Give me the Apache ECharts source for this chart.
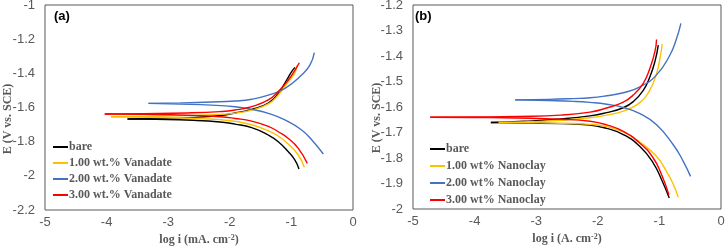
<!DOCTYPE html>
<html><head><meta charset="utf-8">
<script src="https://cdn.jsdelivr.net/npm/echarts@6/dist/echarts.min.js"></script>
<style>html,body{margin:0;padding:0;background:#fff}#c{width:725px;height:246px}</style>
</head><body><div id="c"></div>
<script>
// ---- Panel (a): Vanadate ----
const namesA = ['bare', '1.00 wt.% Vanadate', '2.00 wt.% Vanadate', '3.00 wt.% Vanadate'];
const aBareAn = [[-3.66,-1.667],[-3.2,-1.664],[-2.6,-1.658],[-2.159,-1.647],[-1.916,-1.632],[-1.645,-1.611],[-1.375,-1.574],[-1.213,-1.517],[-1.077,-1.439],[-0.996,-1.390],[-0.942,-1.365]];
const aBareCa = [[-3.66,-1.667],[-3.2,-1.669],[-2.6,-1.675],[-2.159,-1.685],[-1.916,-1.697],[-1.645,-1.718],[-1.375,-1.761],[-1.213,-1.800],[-1.050,-1.859],[-0.942,-1.908],[-0.877,-1.960]];
const aV1An = [[-3.93,-1.654],[-3.3,-1.651],[-2.6,-1.646],[-2.159,-1.640],[-1.916,-1.633],[-1.645,-1.615],[-1.375,-1.579],[-1.213,-1.527],[-1.050,-1.449],[-0.942,-1.396],[-0.905,-1.351]];
const aV1Ca = [[-3.93,-1.654],[-3.3,-1.657],[-2.6,-1.663],[-2.159,-1.671],[-1.916,-1.681],[-1.645,-1.701],[-1.375,-1.736],[-1.213,-1.767],[-1.050,-1.814],[-0.888,-1.878],[-0.790,-1.950]];
const aV2An = [[-3.32,-1.576],[-2.8,-1.573],[-2.3,-1.568],[-1.916,-1.562],[-1.645,-1.552],[-1.375,-1.528],[-1.104,-1.488],[-0.834,-1.410],[-0.698,-1.351],[-0.628,-1.279]];
const aV2Ca = [[-3.32,-1.576],[-2.8,-1.580],[-2.3,-1.586],[-1.916,-1.596],[-1.645,-1.611],[-1.375,-1.634],[-1.104,-1.673],[-0.834,-1.732],[-0.644,-1.800],[-0.482,-1.872]];
const aV3An = [[-4.03,-1.638],[-3.4,-1.636],[-2.7,-1.632],[-2.159,-1.624],[-1.916,-1.615],[-1.645,-1.595],[-1.375,-1.556],[-1.213,-1.507],[-1.050,-1.439],[-0.942,-1.381],[-0.872,-1.338]];
const aV3Ca = [[-4.03,-1.638],[-3.4,-1.640],[-2.7,-1.645],[-2.159,-1.654],[-1.916,-1.664],[-1.645,-1.680],[-1.375,-1.710],[-1.213,-1.742],[-1.050,-1.781],[-0.888,-1.839],[-0.742,-1.927]];

// ---- Panel (b): Nanoclay ----
const namesB = ['bare ', '1.00 wt% Nanoclay', '2.00 wt% Nanoclay', '3.00 wt% Nanoclay'];
const bBareAn = [[-3.736,-1.661],[-3.2,-1.656],[-2.6,-1.647],[-2.126,-1.635],[-1.856,-1.622],[-1.586,-1.603],[-1.424,-1.579],[-1.262,-1.535],[-1.154,-1.481],[-1.073,-1.422],[-1.018,-1.357]];
const bBareCa = [[-3.736,-1.661],[-3.2,-1.663],[-2.6,-1.665],[-2.126,-1.671],[-1.856,-1.684],[-1.586,-1.708],[-1.316,-1.755],[-1.100,-1.820],[-0.964,-1.885],[-0.840,-1.957]];
const bN1An = [[-3.61,-1.661],[-3.1,-1.658],[-2.6,-1.652],[-2.126,-1.642],[-1.856,-1.632],[-1.586,-1.616],[-1.316,-1.583],[-1.154,-1.533],[-1.046,-1.468],[-0.991,-1.409],[-0.954,-1.354]];
const bN1Ca = [[-3.61,-1.661],[-3.1,-1.662],[-2.6,-1.664],[-2.126,-1.668],[-1.856,-1.677],[-1.586,-1.698],[-1.316,-1.738],[-1.046,-1.794],[-0.883,-1.853],[-0.780,-1.900],[-0.694,-1.954]];
const bN2An = [[-3.342,-1.572],[-2.8,-1.570],[-2.4,-1.567],[-2.126,-1.564],[-1.856,-1.556],[-1.586,-1.544],[-1.316,-1.521],[-1.046,-1.474],[-0.829,-1.396],[-0.721,-1.331],[-0.651,-1.272]];
const bN2Ca = [[-3.342,-1.572],[-2.8,-1.575],[-2.4,-1.578],[-2.126,-1.582],[-1.856,-1.589],[-1.586,-1.602],[-1.316,-1.626],[-1.046,-1.670],[-0.775,-1.748],[-0.613,-1.813],[-0.494,-1.872]];
const bN3An = [[-4.72,-1.640],[-4.0,-1.639],[-3.3,-1.637],[-2.6,-1.632],[-2.126,-1.620],[-1.856,-1.604],[-1.586,-1.581],[-1.424,-1.553],[-1.262,-1.507],[-1.154,-1.448],[-1.073,-1.383],[-1.046,-1.335]];
const bN3Ca = [[-4.72,-1.640],[-4.0,-1.641],[-3.3,-1.643],[-2.6,-1.648],[-2.126,-1.656],[-1.856,-1.670],[-1.586,-1.696],[-1.316,-1.742],[-1.100,-1.800],[-0.964,-1.866],[-0.846,-1.944]];

const colors = ['#000000', '#FFC000', '#4472C4', '#FF0000'];
const seriesA = [[aBareAn, aBareCa], [aV1An, aV1Ca], [aV2An, aV2Ca], [aV3An, aV3Ca]];
const seriesB = [[bBareAn, bBareCa], [bN1An, bN1Ca], [bN2An, bN2Ca], [bN3An, bN3Ca]];

const gray = '#595959';
const serif = '"Liberation Serif", "DejaVu Serif", serif';
const sans = '"Liberation Sans", Arial, sans-serif';

function mk(names, groups, idx) {
  const out = [];
  groups.forEach((g, i) => {
    g.forEach(d => out.push({
      type: 'line', name: names[i], xAxisIndex: idx, yAxisIndex: idx,
      data: d, showSymbol: false, symbol: 'none', smooth: 0.5,
      lineStyle: { color: colors[i], width: 1.4 }, itemStyle: { color: colors[i] },
      animation: false, z: 2 + i
    }));
  });
  return out;
}

function xAx(idx, nameTxt) {
  return {
    type: 'value', gridIndex: idx, min: -5, max: 0, interval: 1,
    axisLine: { show: false }, axisTick: { show: false }, splitLine: { show: false },
    axisLabel: { color: gray, fontFamily: sans, fontSize: 13, margin: 6 },
    name: nameTxt, nameLocation: 'middle', nameGap: 22,
    nameTextStyle: {
      color: gray, fontFamily: serif, fontWeight: 'bold', fontSize: 12,
      rich: { sup: { fontSize: 8, fontFamily: serif, fontWeight: 'bold', color: gray, verticalAlign: 'top', lineHeight: 8 } }
    }
  };
}
function yAx(idx, mn, mx, iv) {
  return {
    type: 'value', gridIndex: idx, min: mn, max: mx, interval: iv,
    axisLine: { show: false }, axisTick: { show: false }, splitLine: { show: false },
    axisLabel: { color: gray, fontFamily: sans, fontSize: 13, margin: 10 }
  };
}

const chart = echarts.init(document.getElementById('c'), null, { renderer: 'canvas' });
chart.setOption({
  animation: false,
  backgroundColor: '#ffffff',
  grid: [
    { left: 45, top: 5, width: 308, height: 205, outerBoundsMode: 'none', containLabel: false, show: true, borderColor: '#595959', borderWidth: 1, backgroundColor: 'transparent' },
    { left: 413, top: 5, width: 308, height: 204, outerBoundsMode: 'none', containLabel: false, show: true, borderColor: '#595959', borderWidth: 1, backgroundColor: 'transparent' }
  ],
  xAxis: [xAx(0, 'log i (mA. cm{sup|-2})'), xAx(1, 'log i (A. cm{sup|-2})')],
  yAxis: [yAx(0, -2.2, -1, 0.2), yAx(1, -2, -1.2, 0.1)],
  legend: [
    { data: namesA, orient: 'vertical', left: 53, top: 140, padding: 0, icon: 'rect', itemWidth: 15, itemHeight: 2, itemGap: 2,
      textStyle: { color: gray, fontFamily: serif, fontWeight: 'bold', fontSize: 12, lineHeight: 14, padding: [0,0,0,-4] }, selectedMode: false },
    { data: namesB, orient: 'vertical', left: 430, top: 142, padding: 0, icon: 'rect', itemWidth: 15, itemHeight: 2, itemGap: 3,
      textStyle: { color: gray, fontFamily: serif, fontWeight: 'bold', fontSize: 12, lineHeight: 14, padding: [0,0,0,-4] }, selectedMode: false }
  ],
  graphic: [
    { type: 'text', left: 54, top: 10, style: { text: '(a)', font: 'bold 13px ' + sans, fill: '#000' } },
    { type: 'text', left: 415, top: 10, style: { text: '(b)', font: 'bold 13px ' + sans, fill: '#000' } },
    { type: 'text', x: 8, y: 119, rotation: Math.PI / 2, style: { text: 'E (V vs. SCE)', font: 'bold 12px ' + serif, fill: gray, align: 'center', verticalAlign: 'middle' } },
    { type: 'text', x: 377, y: 118, rotation: Math.PI / 2, style: { text: 'E (V vs. SCE)', font: 'bold 12px ' + serif, fill: gray, align: 'center', verticalAlign: 'middle' } }
  ],
  series: mk(namesA, seriesA, 0).concat(mk(namesB, seriesB, 1))
});
</script></body></html>
